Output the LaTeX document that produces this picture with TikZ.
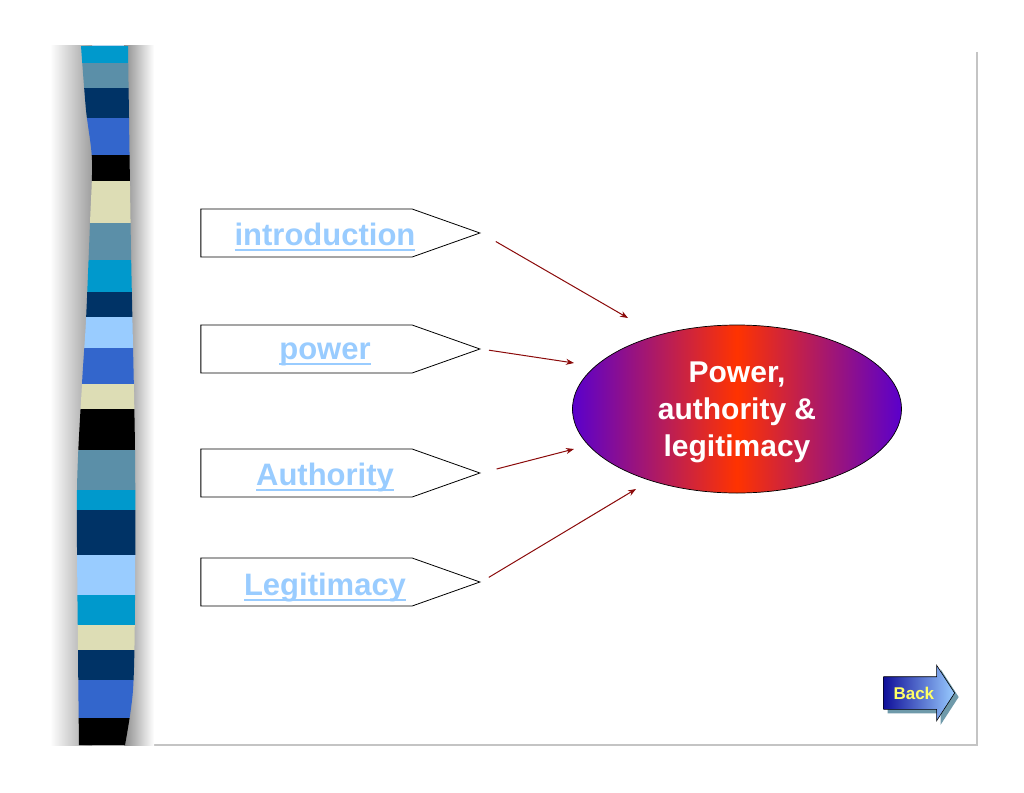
\documentclass[tikz,border=0pt]{standalone}
\usepackage{fontspec}
\setmainfont{Liberation Sans}
\usepackage{tikz}
\usetikzlibrary{positioning,shapes.geometric,shapes.symbols,shapes.arrows,arrows.meta,shadows}
\definecolor{StripeCyan}{HTML}{0099CC}
\definecolor{StripeSteel}{HTML}{5B8FA8}
\definecolor{StripeNavy}{HTML}{003366}
\definecolor{StripeRoyal}{HTML}{3366CC}
\definecolor{StripeCream}{HTML}{DDDDB5}
\definecolor{StripeSky}{HTML}{99CCFF}
\definecolor{LinkBlue}{HTML}{99CCFF}
\definecolor{LinkRed}{HTML}{8B0A0A}
\definecolor{HubViolet}{HTML}{5A00CC}
\definecolor{HubRed}{HTML}{FF3300}
\definecolor{BackNavy}{HTML}{10109A}
\definecolor{BackSky}{HTML}{99CCFF}
\definecolor{BackShade}{HTML}{6F9AAA}
\definecolor{BackYellow}{HTML}{FFFF66}
\definecolor{FrameGray}{HTML}{C4C4C4}
\definecolor{FrameBlue}{HTML}{B8D4EC}
\newcommand{\linkword}[1]{\setbox0\hbox{#1}\rlap{\rule[-6pt]{\wd0}{2pt}}\box0}
\tikzset{
  topicnode/.style={signal,signal to=east,signal pointer angle=39,
    draw=black,line width=0.8pt,fill=white,
    minimum width=279pt,minimum height=48pt,inner sep=0pt},
  topictext/.style={font=\fontsize{31}{36}\selectfont\bfseries\color{LinkBlue},
    inner sep=0pt,anchor=base},
  hubnode/.style={ellipse,draw=black,line width=0.7pt,
    left color=HubViolet,right color=HubViolet,middle color=HubRed,
    minimum width=329pt,minimum height=168pt,text depth=0pt,
    font=\fontsize{30}{37}\selectfont\bfseries\color{white},align=center},
  backnode/.style={single arrow,draw=black,line width=0.6pt,
    left color=BackNavy,right color=BackSky,
    drop shadow={shadow xshift=4pt,shadow yshift=-4pt,fill=BackShade,opacity=1},
    minimum height=71pt,single arrow head extend=11.5pt,
    single arrow tip angle=114,inner xsep=4pt,inner ysep=10pt,
    text height=12pt,text depth=0pt,
    font=\fontsize{17}{20}\selectfont\bfseries\color{BackYellow}},
  linkS/.style={line width=1pt,draw=LinkRed,-{Stealth[length=8pt,width=6pt]}},
}
\begin{document}
\begin{tikzpicture}[x=1pt,y=-1pt]
  \useasboundingbox[fill=white] (0,0) rectangle (1024,792);
  % slide frame
  \draw[FrameBlue,line width=1pt] (52,46) -- (152,46);
  \draw[FrameGray,line width=1.2pt] (977,52) -- (977,745) -- (52,745);
  % striped bar with its shadow
  \shade[left color=white,right color=black!38] (50,46) rectangle (92,745);
  \shade[left color=black!45,right color=white] (124,46) rectangle (154,745);
  \begin{scope}
    \clip plot[smooth] coordinates {(81,46) (86,110) (92,160) (90,223) (86,320)
        (82,384) (77,490) (78,650) (79,745)}
      -- plot[smooth] coordinates {(125,745) (133,690) (135,600) (135,450)
        (131,250) (128,46)} -- cycle;
    \foreach \ya/\yb/\col in {46/63/StripeCyan,63/88/StripeSteel,88/118/StripeNavy,
        118/155/StripeRoyal,155/181/black,181/223/StripeCream,223/260/StripeSteel,
        260/292/StripeCyan,292/317/StripeNavy,317/348/StripeSky,348/384/StripeRoyal,
        384/409/StripeCream,409/450/black,450/490/StripeSteel,490/510/StripeCyan,
        510/555/StripeNavy,555/595/StripeSky,595/625/StripeCyan,625/650/StripeCream,
        650/680/StripeNavy,680/718/StripeRoyal,718/746/black}
      \fill[\col] (60,\ya) rectangle (150,\yb);
  \end{scope}
  % topic boxes
  \node[topicnode] (intro) at (306.5,233) {};
  \node[topicnode] (power) at (306.5,349) {};
  \node[topicnode] (auth) at (306.5,473) {};
  \node[topicnode] (legit) at (306.5,582) {};
  \node[topictext] (intro-t) at (325,245) {\linkword{introduction}};
  \node[topictext] (power-t) at (325,359) {\linkword{power}};
  \node[topictext] (auth-t) at (325,485) {\linkword{Authority}};
  \node[topictext] (legit-t) at (325,595) {\linkword{Legitimacy}};
  % hub
  \node[hubnode] (hub) at (737,409) {Power,\\authority \&\\legitimacy};
  \coordinate (h1) at (628,318);
  \coordinate (h2) at (574,363);
  \coordinate (h3) at (574,449);
  \coordinate (h4) at (636,489);
  \draw[linkS,shorten <=17pt] (intro.east) -- (h1);
  \draw[linkS,shorten <=8pt] (power.east) -- (h2);
  \draw[linkS,shorten <=16pt] (auth.east) -- (h3);
  \draw[linkS,shorten <=9pt] (legit.east) -- (h4);
  % back button
  \node[backnode,anchor=tip] (back) at (955,693) {Back};
\end{tikzpicture}
\end{document}
